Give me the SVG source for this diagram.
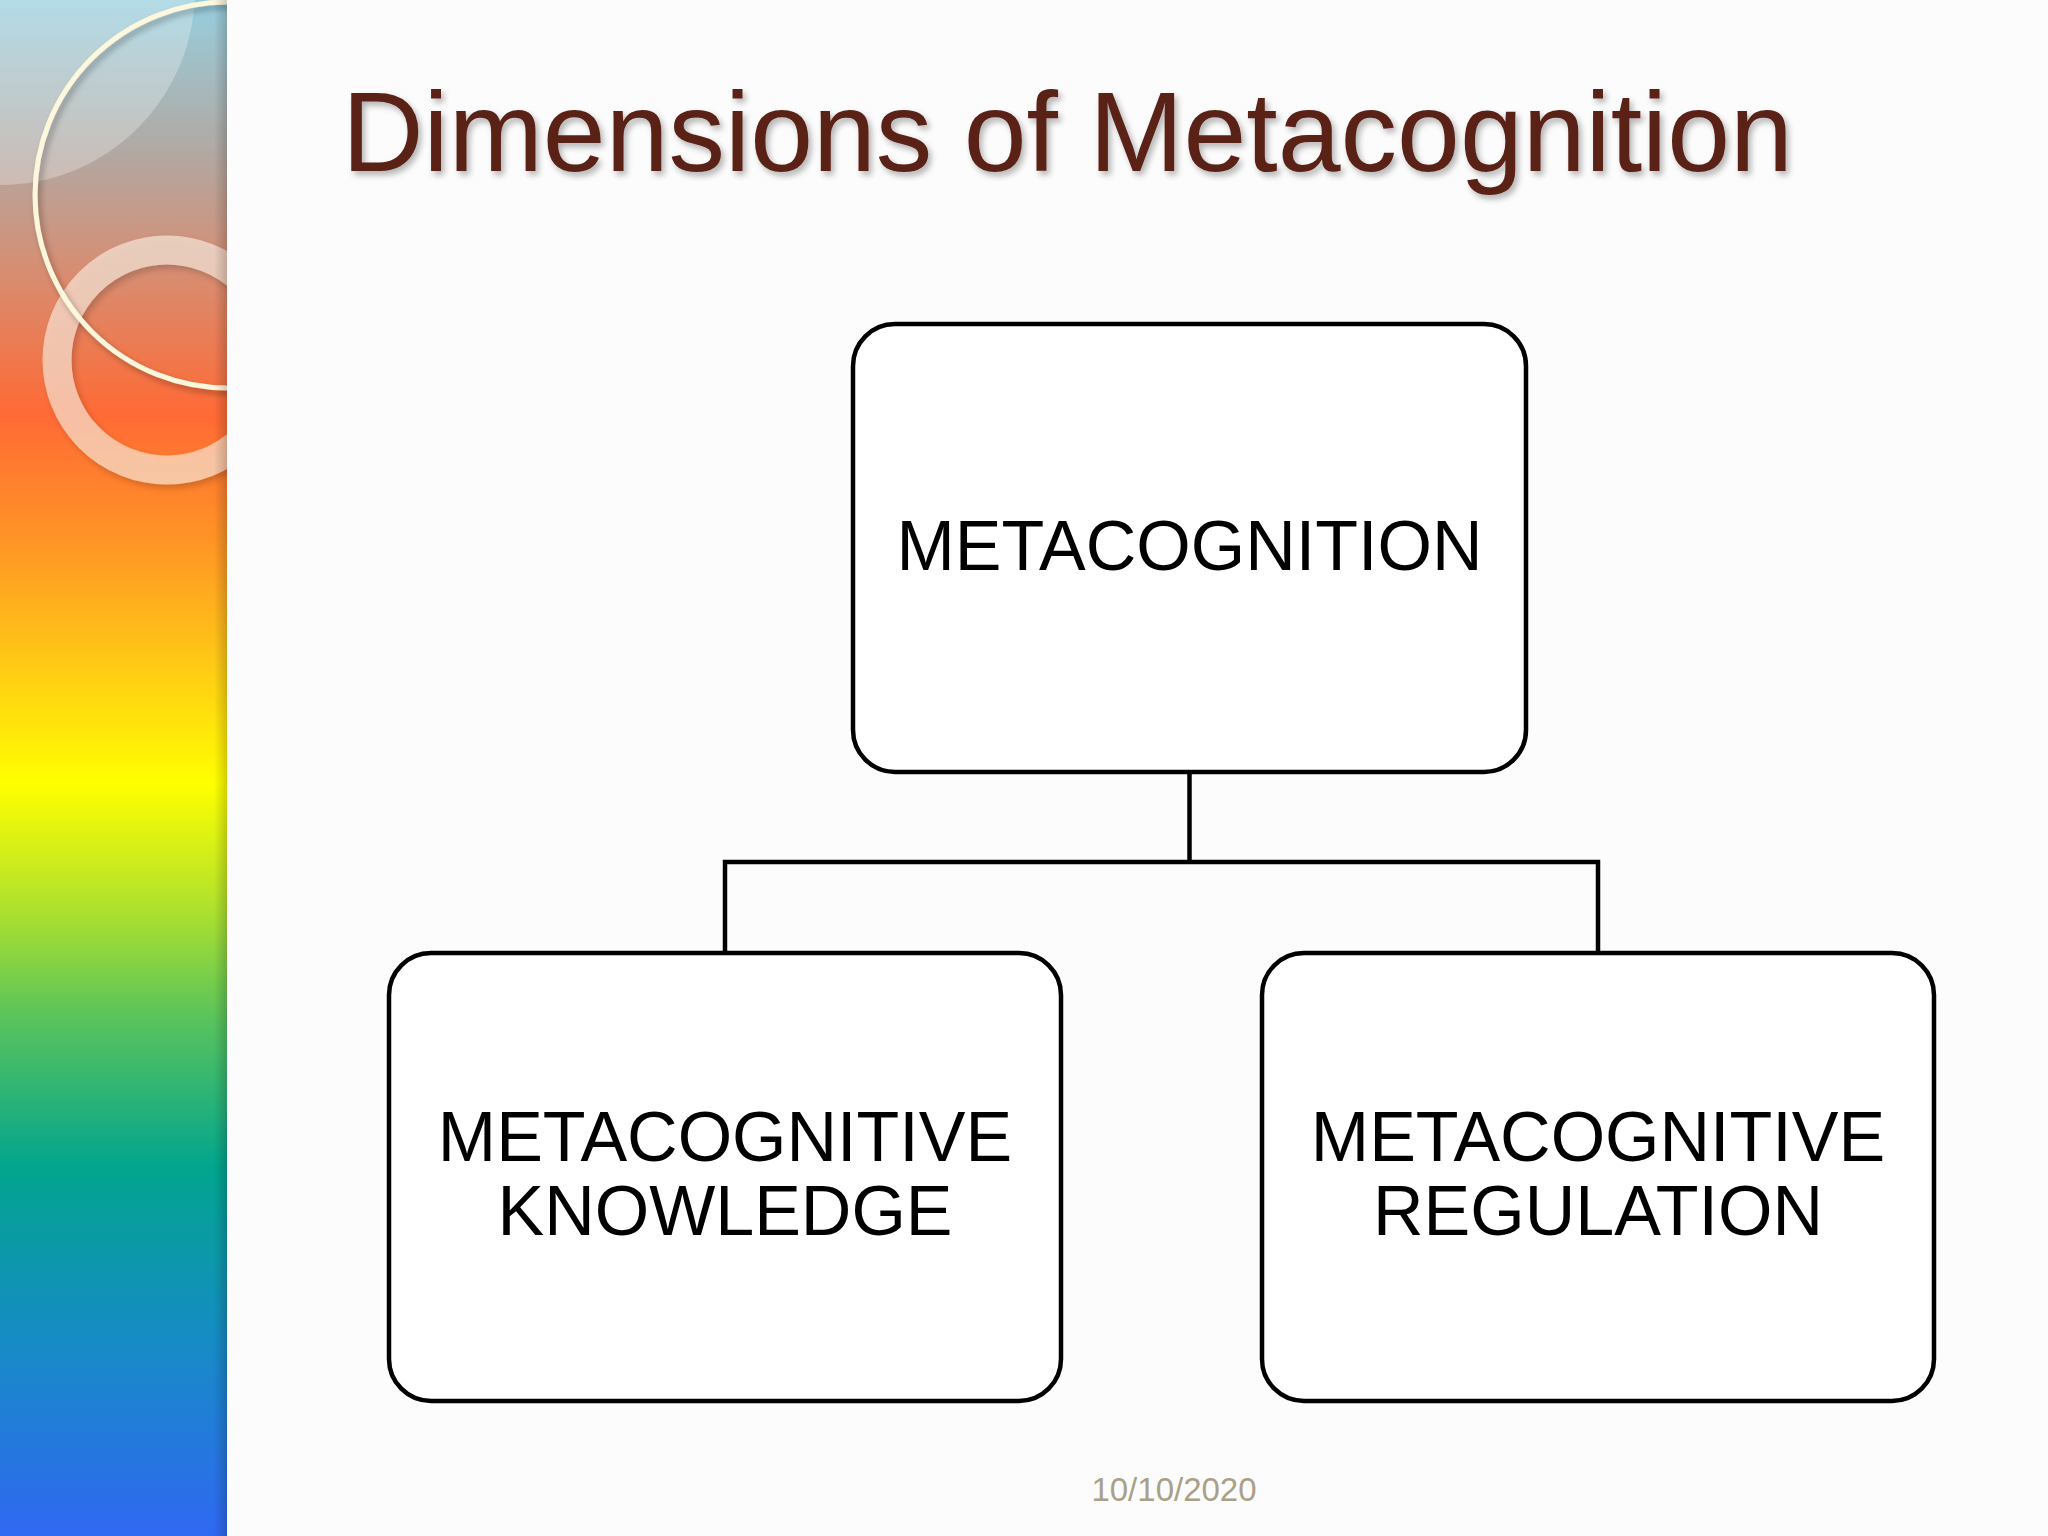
<svg xmlns="http://www.w3.org/2000/svg" width="2048" height="1536" viewBox="0 0 2048 1536">
<defs>
<style>
.box{fill:#ffffff;stroke:#000000;stroke-width:4.5}
.lbl{font-family:"Liberation Sans",Arial,sans-serif;font-size:70px;fill:#000000;text-anchor:middle}
.conn{fill:none;stroke:#000000;stroke-width:4.5;stroke-linejoin:miter}
</style>
<linearGradient id="bar" x1="0" y1="0" x2="0" y2="1536" gradientUnits="userSpaceOnUse">
<stop offset="0" stop-color="#96cede"/>
<stop offset="0.1" stop-color="#b2a8a2"/>
<stop offset="0.18" stop-color="#d98c70"/>
<stop offset="0.27" stop-color="#ff6a35"/>
<stop offset="0.35" stop-color="#ff9326"/>
<stop offset="0.43" stop-color="#ffc816"/>
<stop offset="0.51" stop-color="#ffff00"/>
<stop offset="0.59" stop-color="#b0e22c"/>
<stop offset="0.66" stop-color="#5cc45a"/>
<stop offset="0.76" stop-color="#02a58e"/>
<stop offset="0.87" stop-color="#168cc4"/>
<stop offset="1" stop-color="#3068f2"/>
</linearGradient>
<linearGradient id="edge" x1="0" y1="0" x2="1" y2="0">
<stop offset="0" stop-color="#000" stop-opacity="0"/>
<stop offset="1" stop-color="#000" stop-opacity="0.18"/>
</linearGradient>
<clipPath id="barclip"><rect x="0" y="0" width="227" height="1536"/></clipPath>
<filter id="sh" x="-20%" y="-20%" width="140%" height="140%">
<feGaussianBlur in="SourceAlpha" stdDeviation="3"/>
<feOffset dx="3" dy="4" result="b"/>
<feComponentTransfer><feFuncA type="linear" slope="0.3"/></feComponentTransfer>
<feMerge><feMergeNode/><feMergeNode in="SourceGraphic"/></feMerge>
</filter>
</defs>
<rect x="0" y="0" width="2048" height="1536" fill="#fcfcfc"/>
<g id="sidebar" clip-path="url(#barclip)">
<rect x="0" y="0" width="227" height="1536" fill="url(#bar)"/>
<circle cx="0" cy="-10" r="195" fill="#ffffff" fill-opacity="0.28"/>
<circle cx="167" cy="360" r="110" fill="none" stroke="#fff3e6" stroke-opacity="0.6" stroke-width="29" filter="url(#sh)"/>
<circle cx="228" cy="195" r="193" fill="none" stroke="#fdf7dd" stroke-width="5" filter="url(#sh)"/>
<rect x="214" y="0" width="13" height="1536" fill="url(#edge)"/>
</g>
<text id="title" x="342" y="171" font-family="'Liberation Sans',Arial,sans-serif" font-size="113" fill="#5a2319" filter="url(#sh)">Dimensions of Metacognition</text>
<g id="connectors">
<path class="conn" d="M1189.5 772 V862 M725 953 V862 H1598 V953"/>
</g>
<g id="node-metacognition">
<rect class="box" x="853" y="324" width="673" height="448" rx="42" ry="42"/>
<text class="lbl" x="1189.5" y="570">METACOGNITION</text>
</g>
<g id="node-knowledge">
<rect class="box" x="389" y="953" width="672" height="448" rx="42" ry="42"/>
<text class="lbl" x="725" y="1161">METACOGNITIVE</text>
<text class="lbl" x="725" y="1235">KNOWLEDGE</text>
</g>
<g id="node-regulation">
<rect class="box" x="1262" y="953" width="672" height="448" rx="42" ry="42"/>
<text class="lbl" x="1598" y="1161">METACOGNITIVE</text>
<text class="lbl" x="1598" y="1235">REGULATION</text>
</g>
<text id="date" x="1174" y="1501" font-family="'Liberation Sans',Arial,sans-serif" font-size="33" fill="#aaa088" text-anchor="middle">10/10/2020</text>
</svg>
